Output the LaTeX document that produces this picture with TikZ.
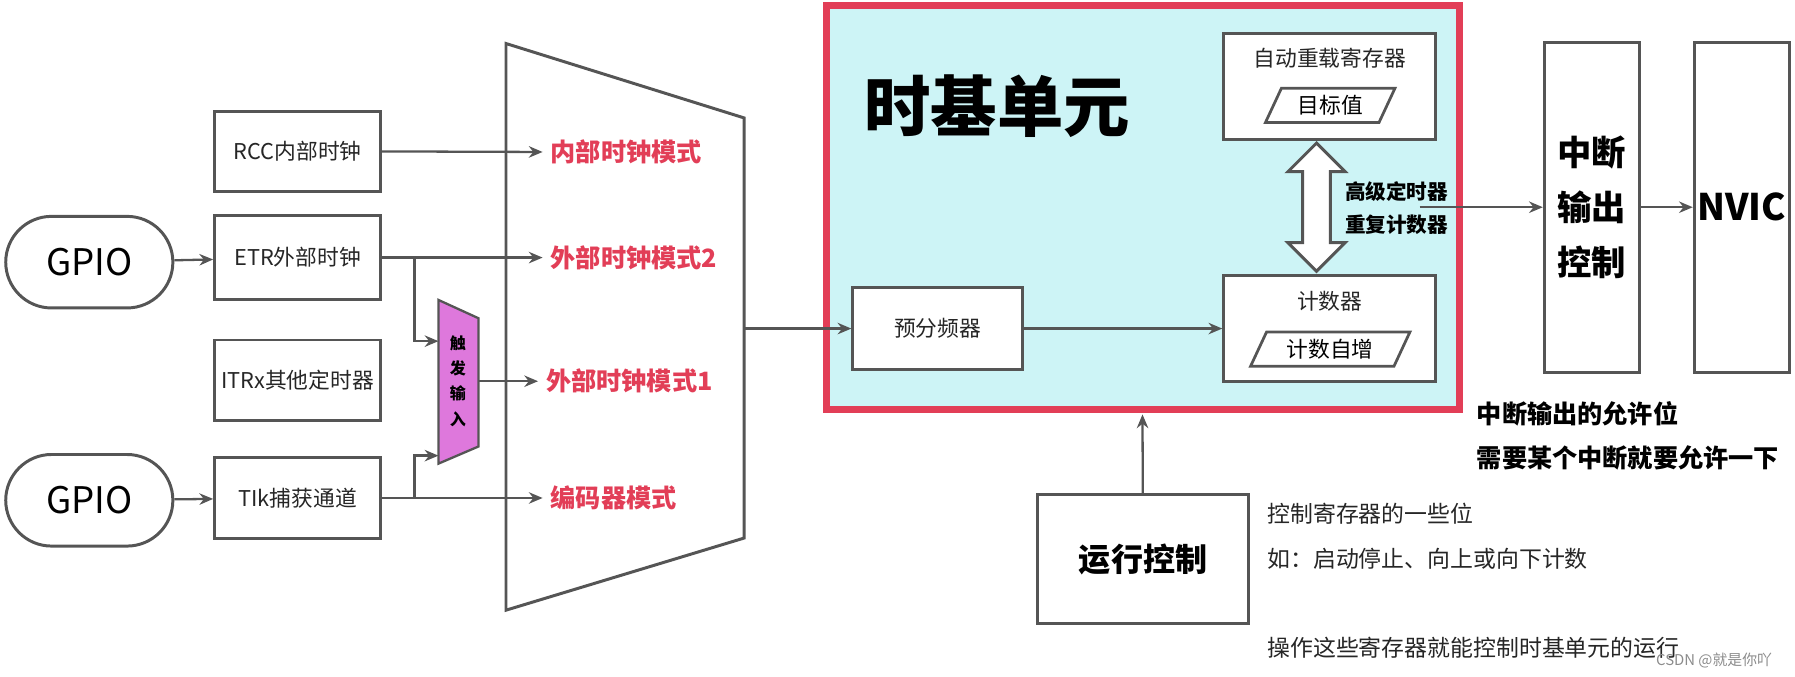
\documentclass[tikz,border=0pt]{standalone}
\usepackage{fontspec}
\setmainfont{Noto Sans CJK SC}
\usetikzlibrary{arrows.meta,shapes.geometric,shapes.arrows}
\definecolor{ln}{RGB}{85,85,85}
\definecolor{rd}{RGB}{226,62,87}
\definecolor{cy}{RGB}{205,244,246}
\definecolor{mg}{RGB}{222,120,220}
\begin{document}
\begin{tikzpicture}[x=0.5pt,y=-0.5pt,
  box/.style={draw=ln,line width=1.3pt,inner sep=0pt},
  arr/.style={draw=ln,line width=1pt,-{Stealth[length=6pt,width=5pt]}},
  lbl/.style={text=rd,font=\fontsize{11}{13}\selectfont\bfseries},
  txt/.style={font=\fontsize{9.5}{11}\selectfont,text=black!85},
  para/.style={draw=ln,line width=1.2pt,trapezium,trapezium left angle=65,trapezium right angle=115,minimum width=52pt,minimum height=15pt,inner sep=1pt,font=\fontsize{9.5}{11}\selectfont}]
\useasboundingbox (0,0) rectangle (1568,591);
% GPIO
\node[box,rounded corners=20pt,minimum width=73pt,minimum height=40pt,font=\fontsize{16}{18}\selectfont] (g1) at (78,229) {GPIO};
\node[box,rounded corners=20pt,minimum width=73pt,minimum height=40pt,font=\fontsize{16}{18}\selectfont] (g2) at (78,437) {GPIO};
% source boxes
\node[box,minimum width=72.5pt,minimum height=35pt,txt] (rcc) at (260,132) {RCC内部时钟};
\node[box,minimum width=72.5pt,minimum height=37pt,txt] (etr) at (260,225) {ETR外部时钟};
\node[box,minimum width=72.5pt,minimum height=35pt,txt] (itr) at (260,332) {ITRx其他定时器};
\node[box,minimum width=72.5pt,minimum height=35pt,txt] (tik) at (260,435) {TIk捕获通道};
\draw[arr] (g1) -- (etr);
\draw[arr] (g2) -- (tik);
% big trapezoid
\draw[ln,line width=1.3pt] (442,38) -- (650,103) -- (650,470) -- (442,533) -- cycle;
\coordinate (tr) at (650,287);
% mode labels
\node[lbl,anchor=west] (m1) at (474,133) {内部时钟模式};
\node[lbl,anchor=west] (m2) at (474,225) {外部时钟模式2};
\node[lbl,anchor=west] (m3) at (470,333) {外部时钟模式1};
\node[lbl,anchor=west] (m4) at (474,435) {编码器模式};
\draw[arr] (rcc) -- (m1);
\draw[arr] (etr) -- (m2);
\draw[arr] (tik) -- (m4);
% trigger
\draw[ln,line width=1pt,fill=mg] (383,262) -- (418,278) -- (418,390) -- (383,405) -- cycle;
\node[font=\fontsize{7}{11}\selectfont\bfseries,align=center] (trg) at (400,333) {触\\发\\输\\入};
\coordinate (trl) at (383,298);
\coordinate (trl2) at (383,398);
\draw[arr] (362,225) |- (trl);
\draw[arr] (362,435) |- (trl2);
\draw[arr] (418,333) -- (m3);
% red box
\draw[rd,line width=3pt,fill=cy] (722,5) rectangle (1275,358);
\node[font=\fontsize{29}{33}\selectfont\bfseries,anchor=west] (tb) at (748,93) {时基单元};
\node[box,minimum width=74pt,minimum height=35.5pt,txt,fill=white] (psc) at (819,287) {预分频器};
\draw[arr] (tr) -- (psc);
\node[box,minimum width=92.5pt,minimum height=46.5pt,fill=white] (arrb) at (1161.5,75.5) {};
\node[txt,anchor=north] (arrt) at (1161.5,35) {自动重载寄存器};
\node[para,fill=white] (tv) at (1162,92) {目标值};
\node[box,minimum width=92.5pt,minimum height=46pt,fill=white] (cnt) at (1161.5,287) {};
\node[txt,anchor=north] (cntt) at (1161.5,247) {计数器};
\node[para,fill=white] (ci) at (1162,305) {计数自增};
\draw[arr] (psc) -- (cnt);
% double arrow
\node[double arrow,draw=ln,line width=1.3pt,fill=white,shape border rotate=90,minimum height=56pt,minimum width=25pt,double arrow head extend=5pt,inner sep=4pt] (da) at (1150,181) {};
\node[font=\fontsize{9}{14.5}\selectfont\bfseries,align=left] (adv) at (1220,182) {高级定时器\\重复计数器};
% interrupt
\node[box,minimum width=41.5pt,minimum height=144pt,align=center,font=\fontsize{15}{24}\selectfont\bfseries] (ioc) at (1390.5,181) {中断\\输出\\控制};
\node[box,minimum width=41.5pt,minimum height=144pt,font=\fontsize{16}{18}\selectfont\bfseries] (nvic) at (1521.5,181) {NVIC};
\draw[arr] (1240,181) -- (ioc);
\draw[arr] (ioc) -- (nvic);
\node[font=\fontsize{11}{19}\selectfont\bfseries,align=left,anchor=north west] (note) at (1283,344) {中断输出的允许位\\需要某个中断就要允许一下};
% run control
\node[box,minimum width=92.5pt,minimum height=56.5pt,font=\fontsize{14}{16}\selectfont\bfseries] (run) at (998.5,488.5) {运行控制};
\draw[arr] (run) -- (998,362);
\node[font=\fontsize{10}{20}\selectfont,align=left,anchor=north west,text=black!85] (rtx) at (1100,432) {控制寄存器的一些位\\如：启动停止、向上或向下计数};
\node[font=\fontsize{10}{12}\selectfont,anchor=west,text=black!85] (rtx2) at (1100,566) {操作这些寄存器就能控制时基单元的运行};
\node[font=\fontsize{6.5}{8}\selectfont,text=black!45,anchor=east] (wm) at (1555,577) {CSDN @就是你吖};
\end{tikzpicture}
\end{document}
